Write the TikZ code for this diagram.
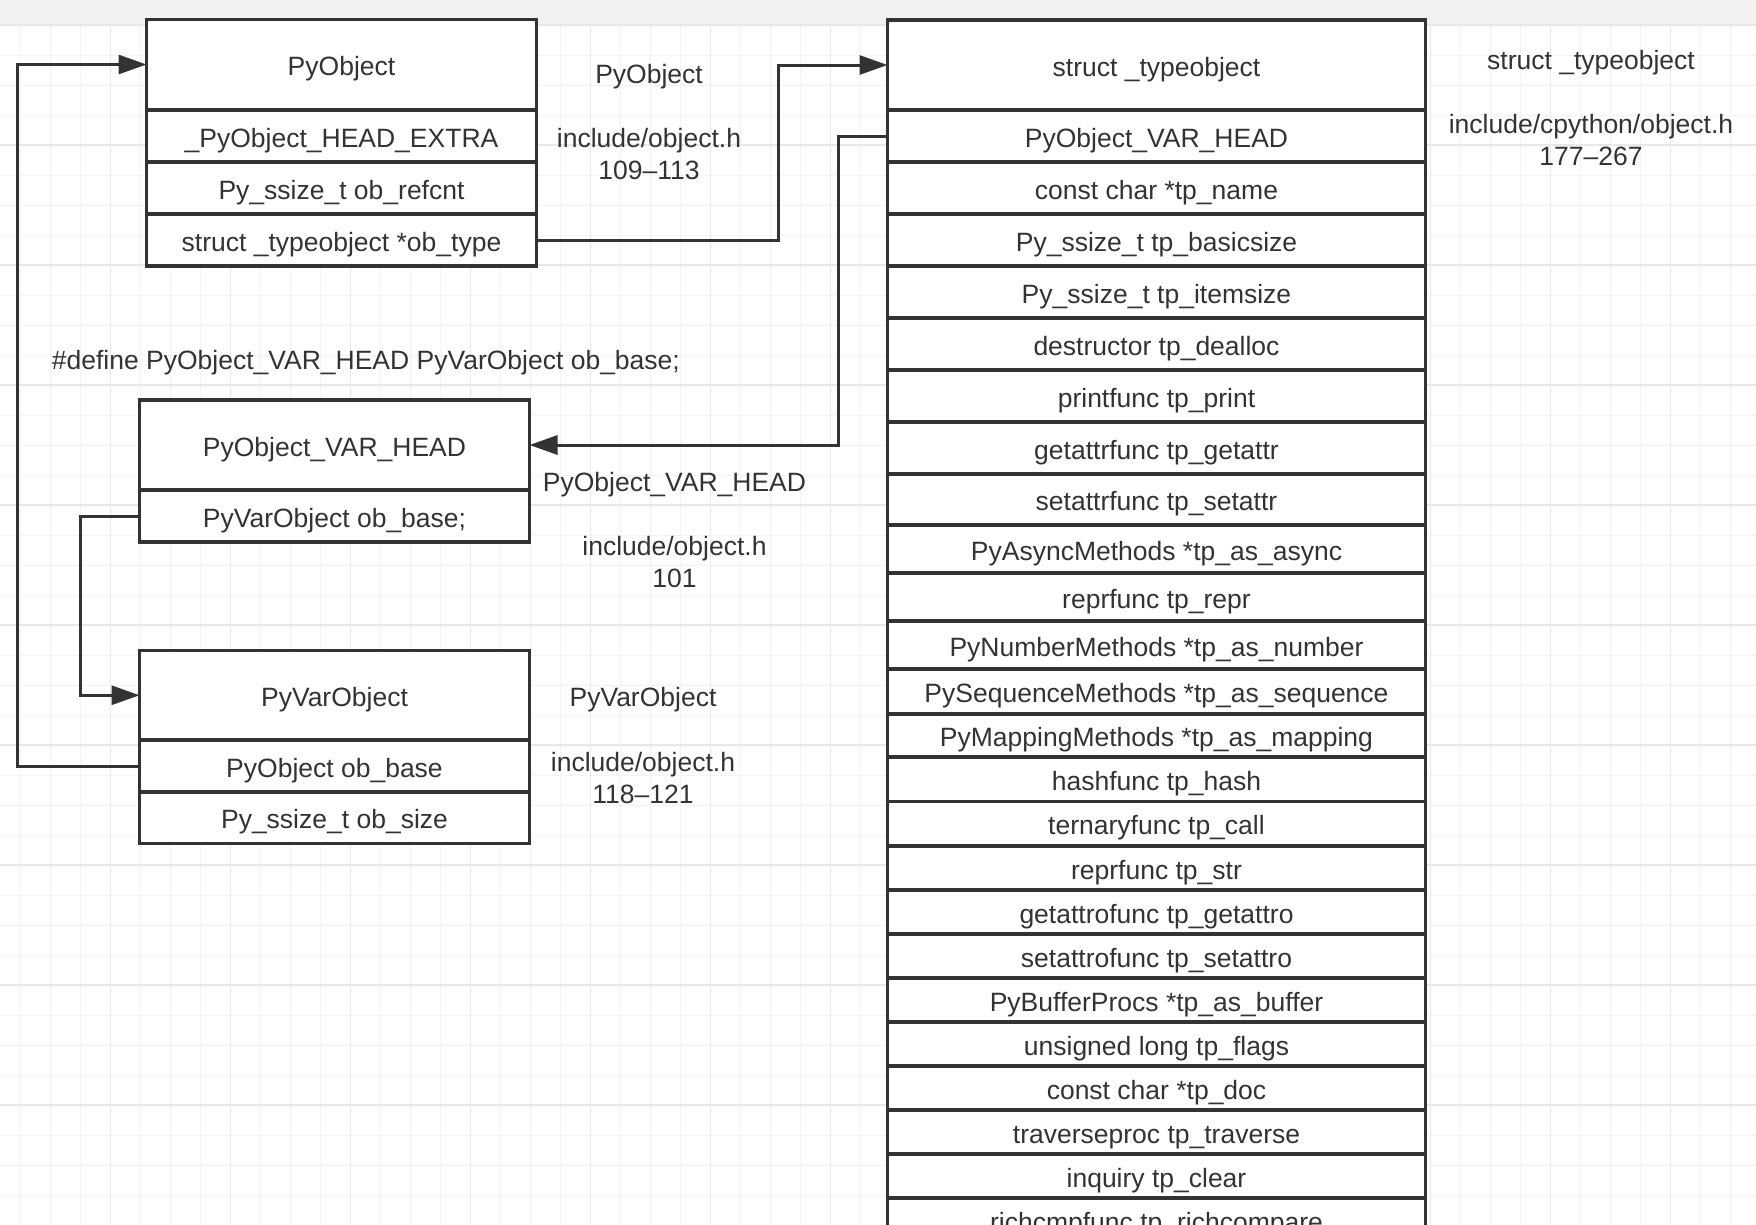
\documentclass[tikz,border=0pt]{standalone}
\usepackage{fontspec}
\setmainfont{Liberation Sans}
\usetikzlibrary{arrows.meta}
\definecolor{linec}{HTML}{333333}
\definecolor{gridmin}{HTML}{F3F3F3}
\definecolor{gridmaj}{HTML}{E8E8E8}
\definecolor{bandc}{HTML}{F2F2F2}
\tikzset{
  field/.style={draw=linec, fill=white, line width=3.2pt, text=linec, inner sep=0pt, outer sep=0pt,
    anchor=north, minimum width=#1, minimum height=52pt, text height=22pt, text depth=0pt},
  head/.style={field=#1, minimum height=90pt},
  note/.style={text=linec, inner sep=0pt, anchor=base, align=center},
  link/.style={draw=linec, line width=3pt, -{Triangle[length=28pt,width=19pt]}},
}

\begin{document}
\begin{tikzpicture}[x=1pt, y=-1pt, every node/.style={font=\fontsize{26.5}{31.7}\selectfont}]
    \clip (0,0) rectangle (1756,1224);
    \fill[white] (0,0) rectangle (1756,1224);
    \fill[bandc] (0,0) rectangle (1756,24);
    \foreach \x in {20.7,50.7,...,1756} \draw[gridmin, line width=1pt] (\x,24) -- (\x,1224);
    \foreach \y in {25,55,...,1224} \draw[gridmin, line width=1pt] (0,\y) -- (1756,\y);
    \foreach \x in {110.7,230.7,...,1756} \draw[gridmaj, line width=1.2pt] (\x,24) -- (\x,1224);
    \foreach \y in {25,145,...,1224} \draw[gridmaj, line width=1.2pt] (0,\y) -- (1756,\y);

    \node[head=390] (obj_head) at (341.5,19.5) {PyObject};
    \node[field=390] (obj_extra) at (341.5,110) {\_PyObject\_HEAD\_EXTRA};
    \node[field=390] (obj_refcnt) at (341.5,162) {Py\_ssize\_t ob\_refcnt};
    \node[field=390] (obj_type) at (341.5,214) {struct \_typeobject *ob\_type};
    \node[note] (obj_note) at (649,83.3) {PyObject};
    \node[note] (obj_src) at (649,179) {include/object.h\\109--113};

    \node[note, anchor=base west] (define) at (51.7,369.3) {\#define PyObject\_VAR\_HEAD PyVarObject ob\_base;};

    \node[head=390] (vh_head) at (334.5,400) {PyObject\_VAR\_HEAD};
    \node[field=390] (vh_base) at (334.5,490) {PyVarObject ob\_base;};
    \node[note] (vh_note) at (674.5,491.7) {PyObject\_VAR\_HEAD};
    \node[note] (vh_src) at (674.5,587.3) {include/object.h\\101};

    \node[head=390, minimum height=89.5pt] (vo_head) at (334.5,650.5) {PyVarObject};
    \node[field=390] (vo_base) at (334.5,740) {PyObject ob\_base};
    \node[field=390, minimum height=51.5pt] (vo_size) at (334.5,792) {Py\_ssize\_t ob\_size};
    \node[note] (vo_note) at (643,706.7) {PyVarObject};
    \node[note] (vo_src) at (643,803.3) {include/object.h\\118--121};

    \node[head=538] (tp_head) at (1156.5,20) {struct \_typeobject};
    \foreach \t/\h/\lbl [count=\i] in {
        110/52pt/PyObject\_VAR\_HEAD,
        162/52pt/const char *tp\_name,
        214/52pt/Py\_ssize\_t tp\_basicsize,
        266/52pt/Py\_ssize\_t tp\_itemsize,
        318/52pt/destructor tp\_dealloc,
        370/52pt/printfunc tp\_print,
        422/52pt/getattrfunc tp\_getattr,
        474/51pt/setattrfunc tp\_setattr,
        525/48pt/PyAsyncMethods *tp\_as\_async,
        573/48pt/reprfunc tp\_repr,
        621/48pt/PyNumberMethods *tp\_as\_number,
        669/45pt/PySequenceMethods *tp\_as\_sequence,
        714/43pt/PyMappingMethods *tp\_as\_mapping,
        757/44.5pt/hashfunc tp\_hash,
        801.5/44.5pt/ternaryfunc tp\_call,
        846/44pt/reprfunc tp\_str,
        890/44pt/getattrofunc tp\_getattro,
        934/44pt/setattrofunc tp\_setattro,
        978/44pt/PyBufferProcs *tp\_as\_buffer,
        1022/44pt/unsigned long tp\_flags,
        1066/44pt/const char *tp\_doc,
        1110/44pt/traverseproc tp\_traverse,
        1154/44pt/inquiry tp\_clear,
        1198/44pt/richcmpfunc tp\_richcompare}
        \node[field=538, minimum height=\h] (tp\i) at (1156.5,\t) {\lbl};
    \node[note] (tp_note) at (1591,69.3) {struct \_typeobject};
    \node[note] (tp_src) at (1591,165) {include/cpython/object.h\\177--267};

    \draw[link] (obj_type.east) -- ++(241.5,0) |- (tp_head.west);
    \draw[link] (tp1.west) -- ++(-49.5,0) |- (vh_head.east);
    \draw[link] (vh_base.west) -- ++(-59,0) |- (vo_head.west);
    \draw[link] (vo_base.west) -- ++(-122.3,0) |- (obj_head.west);
\end{tikzpicture}
\end{document}
